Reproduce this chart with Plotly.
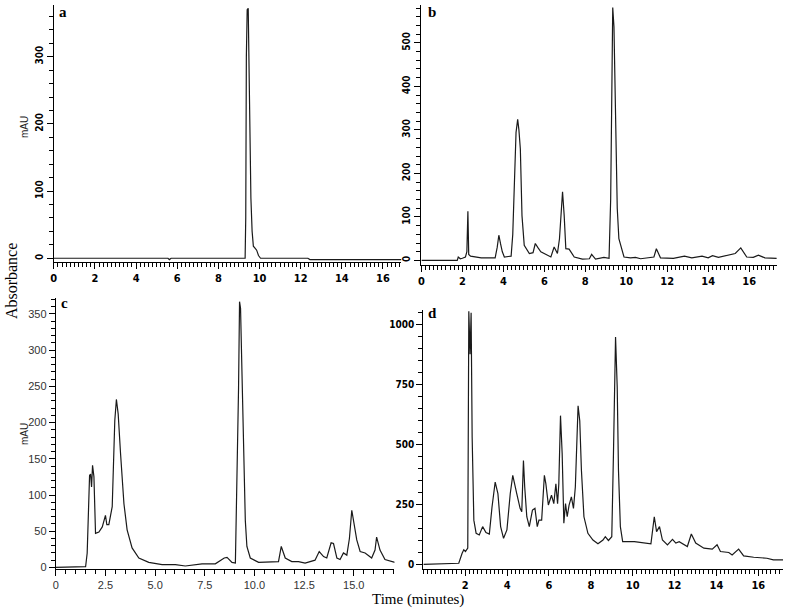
import plotly.graph_objects as go

W, H = 785, 612

# a: standard
time_a = [0, 5.55, 5.62, 5.7, 9.3, 9.33, 9.36, 9.4, 9.45, 9.48, 9.52, 9.58, 9.64,
          9.7, 9.78, 9.86, 9.95, 10.05, 12.35, 12.45, 16.9]
mau_a = [0, 0, -2, 0, 0, 60, 300, 370, 372, 300, 200, 90, 40,
         18, 15, 12, 4, 0, 0, -2, -2]

# b
time_b = [0, 1.75, 1.8, 1.9, 2.0, 2.15, 2.22, 2.27, 2.31, 2.4, 2.92, 3.6, 3.7, 3.78,
          3.86, 3.95, 4.05, 4.38, 4.46, 4.54, 4.62, 4.7, 4.76, 4.83, 4.91, 5.02, 5.27, 5.45,
          5.56, 5.68, 5.83, 6.16, 6.32, 6.48, 6.64, 6.74, 6.84, 6.89, 6.97, 7.05, 7.21,
          7.46, 7.86, 8.2, 8.31, 8.5, 8.91, 9.16, 9.24, 9.29, 9.34, 9.4, 9.48, 9.56,
          9.64, 9.72, 9.89, 10.21, 10.45, 10.7, 11.35, 11.47, 11.67, 12.3, 12.84,
          13.2, 13.7, 14.0, 14.21, 14.5, 14.91, 15.32, 15.59, 15.88, 16.2, 16.45,
          16.77, 17.34]
mau_b = [0, 0, 8, 4, 5, 8, 20, 113, 14, 10, 6, 6, 30, 58,
         39, 20, 8, 10, 60, 172, 294, 324, 300, 256, 103, 35, 16, 18,
         39, 30, 20, 12, 8, 31, 16, 50, 140, 158, 103, 27, 26,
         8, 3, 4, 14, 3, 7, 5, 142, 446, 581, 537, 294, 120,
         50, 35, 8, 6, 7, 4, 8, 27, 6, 5, 10,
         6, 10, 6, 11, 7, 11, 16, 29, 8, 7, 12,
         6, 5]

# c
time_c = [0, 1.3, 1.5, 1.58, 1.7, 1.75, 1.8, 1.85, 1.92, 2.0, 2.17, 2.34, 2.45, 2.5,
          2.57, 2.67, 2.84, 2.97, 3.05, 3.14, 3.26, 3.43, 3.59, 3.84, 4.18, 4.68, 5.35,
          6.02, 6.52, 7.36, 8.03, 8.48, 8.62, 8.87, 9.04, 9.14, 9.2, 9.25, 9.3, 9.37,
          9.45, 9.54, 9.62, 9.79, 10.21, 11.05, 11.21, 11.35, 11.55, 11.88, 12.22,
          12.55, 13.05, 13.26, 13.48, 13.64, 13.86, 13.98, 14.15, 14.31, 14.48, 14.65,
          14.78, 14.9, 15.03, 15.15, 15.32, 15.57, 15.9, 16.07, 16.15, 16.32, 16.57,
          17.07]
mau_c = [0, 0, 1, 20, 127, 129, 111, 141, 125, 47, 49, 56, 65, 72,
         59, 59, 84, 203, 232, 212, 157, 88, 52, 27, 13, 7, 4,
         4, 2, 5, 5, 13, 14, 7, 6, 143, 248, 367, 358, 271,
         157, 65, 29, 13, 7, 7, 8, 29, 13, 8, 8,
         6, 10, 22, 15, 13, 34, 33, 13, 11, 20, 17,
         40, 79, 56, 38, 22, 20, 13, 24, 42, 24, 11,
         7]

# d
time_d = [0, 1.69, 1.85, 1.93, 2.01, 2.12, 2.17, 2.23, 2.28, 2.33, 2.41, 2.52, 2.67,
          2.83, 2.99, 3.15, 3.28, 3.43, 3.56, 3.69, 3.83, 3.99, 4.15, 4.27, 4.46, 4.62,
          4.7, 4.78, 4.84, 4.94, 5.06, 5.21, 5.33, 5.44, 5.52, 5.65, 5.78, 5.85, 5.97,
          6.12, 6.23, 6.33, 6.41, 6.47, 6.55, 6.63, 6.71, 6.79, 6.87, 6.96, 7.07, 7.17,
          7.26, 7.39, 7.47, 7.55, 7.67, 7.86, 8.1, 8.34, 8.58, 8.69, 8.84, 9.0, 9.08,
          9.18, 9.26, 9.32, 9.41, 9.52, 10.08, 10.4, 10.87, 11.03, 11.14, 11.28, 11.42,
          11.66, 11.9, 12.06, 12.22, 12.61, 12.8, 13.01, 13.4, 13.8, 14.03, 14.19,
          14.59, 14.75, 15.06, 15.3, 15.78, 16.41, 16.72, 17.28]
mau_d = [0, 5, 47, 61, 54, 68, 1057, 877, 1050, 531, 185, 130, 123,
         158, 133, 127, 241, 344, 296, 158, 109, 144, 296, 372, 296, 234,
         220, 434, 324, 199, 158, 227, 234, 158, 185, 185, 372, 337, 248,
         289, 254, 337, 254, 337, 621, 462, 172, 254, 199, 248, 282, 234,
         324, 662, 600, 393, 199, 130, 102, 86, 102, 116, 100, 116, 462,
         949, 739, 393, 158, 95, 95, 91, 86, 199, 137, 158, 102,
         82, 105, 89, 95, 75, 127, 89, 68, 64, 82, 54,
         50, 40, 64, 36, 30, 26, 19, 19]

LINE = dict(color="#1a1a1a", width=1.2)
BOLD_NARROW = dict(family="DejaVu Sans Condensed, Liberation Sans Narrow, sans-serif",
                   size=11, color="black", weight="bold")
PLAIN = dict(family="Liberation Sans, Arial, sans-serif", size=11, color="#333333")
SERIF = "Liberation Serif, Times New Roman, serif"


def px_x(p):
    return p / W


def px_y(p):
    return 1 - p / H


fig = go.Figure()
panels = [(time_a, mau_a), (time_b, mau_b), (time_c, mau_c), (time_d, mau_d)]
for i, (t, v) in enumerate(panels, start=1):
    fig.add_trace(go.Scatter(x=t, y=v, mode="lines", line=LINE, showlegend=False,
                             xaxis=f"x{i if i > 1 else ''}", yaxis=f"y{i if i > 1 else ''}"))

axis_common = dict(showline=True, linecolor="black", linewidth=1, showgrid=False,
                   zeroline=False, ticks="outside", ticklen=6, tickcolor="black",
                   fixedrange=True)


def axis(dom, rng, dtick, minor, font, tick0=0, **kw):
    return dict(axis_common, domain=dom, range=rng, dtick=dtick, tick0=tick0,
                tickfont=font, minor=dict(dtick=minor, tick0=0, ticklen=4,
                                          ticks="outside", tickcolor="black",
                                          tickwidth=1, showgrid=False), **kw)


fig.update_layout(
    width=W, height=H,
    margin=dict(l=0, r=0, t=0, b=0),
    paper_bgcolor="white", plot_bgcolor="white",
    xaxis=axis([px_x(51), px_x(400)], [0, 16.9], 2, 0.2, BOLD_NARROW, anchor="y"),
    yaxis=axis([px_y(264), px_y(5)], [-6, 377], 100, 20, dict(BOLD_NARROW, size=10),
               anchor="x", tickangle=-90),
    xaxis2=axis([px_x(420), px_x(777)], [0, 17.36], 2, 0.2, BOLD_NARROW, anchor="y2"),
    yaxis2=axis([px_y(267), px_y(5)], [-11, 587], 100, 20, dict(BOLD_NARROW, size=10),
                anchor="x2", tickangle=-90),
    xaxis3=axis([px_x(53), px_x(393)], [0, 17.05], 2.5, 0.5, PLAIN, anchor="y3"),
    yaxis3=axis([px_y(573), px_y(300)], [-2.5, 372], 50, 10, PLAIN, anchor="x3"),
    xaxis4=axis([px_x(422), px_x(783)], [0, 17.18], 2, 0.2, BOLD_NARROW, anchor="y4"),
    yaxis4=axis([px_y(573), px_y(312)], [-20, 1062], 250, 50, dict(BOLD_NARROW, size=10),
                anchor="x4"),
)
# panel d has no "0" label on the time axis
fig.layout.xaxis4.tickvals = [2, 4, 6, 8, 10, 12, 14, 16]
# panel c: "0" without decimals
fig.layout.xaxis3.tickvals = [0, 2.5, 5, 7.5, 10, 12.5, 15]
fig.layout.xaxis3.ticktext = ["0", "2.5", "5.0", "7.5", "10.0", "12.5", "15.0"]

centered = dict(xref="paper", yref="paper", showarrow=False,
                xanchor="center", yanchor="middle")

letters = [("a", 60, 12), ("b", 431, 12), ("c", 62, 305), ("d", 431, 315)]
for txt, x, y in letters:
    fig.add_annotation(text=txt, x=px_x(x), y=px_y(y), **centered,
                       font=dict(family=SERIF, size=15, color="black", weight="bold"))

for y in (128, 437):
    fig.add_annotation(text="mAU", x=px_x(21), y=px_y(y), textangle=-90, **centered,
                       font=dict(family="Liberation Sans, Arial, sans-serif", size=10,
                                 color="#222222"))

fig.add_annotation(text="Absorbance", x=px_x(8), y=px_y(283), textangle=-90, **centered,
                   font=dict(family=SERIF, size=16, color="black"))
fig.add_annotation(text="Time (minutes)", x=px_x(417), y=px_y(603), **centered,
                   font=dict(family=SERIF, size=15, color="black"))

# the page body has an 8px default margin; drop it so the figure sits at the corner
fig.write_html("out.html", config={"displayModeBar": False},
               post_script="document.body.style.margin = '0';")
